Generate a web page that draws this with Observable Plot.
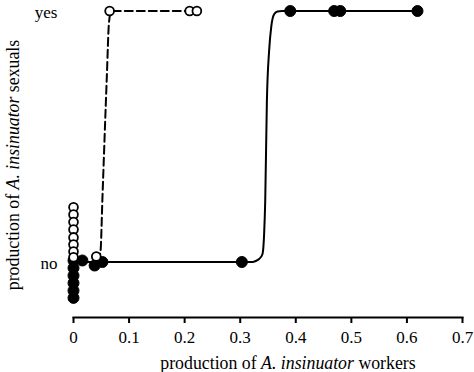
<!DOCTYPE html>
<html>
<head>
<meta charset="utf-8">
<script src="https://cdn.jsdelivr.net/npm/d3@7"></script>
<script src="https://cdn.jsdelivr.net/npm/@observablehq/plot@0.6"></script>
<style>
  html, body { margin: 0; padding: 0; background: #fff; }
  svg { display: block; }
</style>
</head>
<body>
<div id="chart"></div>
<script>
// Observed colonies: x = production of workers, outcome 0 = no, 1 = yes sexuals
// offset = vertical stacking offset of overlapping points (in outcome units)
const openX       = [0, 0, 0, 0, 0, 0, 0, 0, 0.041, 0.065, 0.209, 0.222];
const openOutcome = [0, 0, 0, 0, 0, 0, 0, 0, 0, 1, 1, 1];
const openOffset  = [0.218, 0.189, 0.159, 0.129, 0.098, 0.070, 0.042, 0.019, 0.022, 0, 0, 0];

const filledX       = [0, 0, 0, 0, 0, 0, 0.016, 0.038, 0.052, 0.303, 0.390, 0.469, 0.480, 0.619];
const filledOutcome = [0, 0, 0, 0, 0, 0, 0, 0, 0, 0, 1, 1, 1, 1];
const filledOffset  = [0.006, -0.024, -0.054, -0.084, -0.114, -0.143, 0.006, -0.014, 0, 0, 0, 0, 0, 0];

// fitted curves
const dashedX = [0, 0.040, 0.044, 0.0465, 0.0487, 0.052, 0.056, 0.060, 0.0637, 0.067, 0.072, 0.222];
const dashedP = [0, 0, 0.008, 0.02, 0.044, 0.25, 0.50, 0.74, 0.95, 0.993, 1, 1];

const solidX = [0, 0.322, 0.328, 0.334, 0.340, 0.343, 0.345, 0.348, 0.352, 0.356, 0.361, 0.367, 0.375, 0.619];
const solidP = [0, 0, 0.004, 0.012, 0.031, 0.11, 0.243, 0.641, 0.841, 0.94, 0.987, 0.998, 1, 1];

const xTicks = [0, 0.1, 0.2, 0.3, 0.4, 0.5, 0.6, 0.7];
const yTicks = [0, 1];
const yTickLabels = ["no", "yes"];

const openPts = openX.map((x, i) => ({x, y: openOutcome[i] + openOffset[i]}));
const filledPts = filledX.map((x, i) => ({x, y: filledOutcome[i] + filledOffset[i]}));
const dashed = dashedX.map((x, i) => ({x, y: dashedP[i]}));
const solid = solidX.map((x, i) => ({x, y: solidP[i]}));

const font = "'Liberation Serif', 'Times New Roman', serif";

const chart = Plot.plot({
  width: 474,
  height: 372,
  marginLeft: 73,
  marginRight: 12,
  marginTop: 10,
  marginBottom: 55,
  style: {fontFamily: font, fontSize: "17px", color: "#000", background: "#fff"},
  x: {domain: [0, 0.7], ticks: xTicks},
  y: {domain: [0, 1], range: [261.5, 10.5]},
  marks: [
    Plot.frame({anchor: "bottom", stroke: "#000", strokeWidth: 2}),
    Plot.axisX({ticks: xTicks, tickFormat: d => d === 0 ? "0" : String(d), tickSize: 6, tickPadding: 7, strokeWidth: 2, fontSize: 17, label: null}),
    Plot.axisY({ticks: yTicks, tickFormat: d => yTickLabels[yTicks.indexOf(d)], tickSize: 0, tickPadding: 16, fontSize: 17, dy: 1.5, label: null}),
    Plot.line(dashed, {x: "x", y: "y", curve: "monotone-x", stroke: "#000", strokeWidth: 2, strokeDasharray: "8,4"}),
    Plot.line(solid, {x: "x", y: "y", curve: "monotone-x", stroke: "#000", strokeWidth: 2}),
    Plot.dot(filledPts, {x: "x", y: "y", r: 5.5, fill: "#000", stroke: "#000", strokeWidth: 1}),
    Plot.dot(openPts, {x: "x", y: "y", r: 4.4, fill: "#fff", stroke: "#000", strokeWidth: 1.8})
  ]
});

const svg = d3.select(chart);
function richText(sel, parts) {
  parts.forEach(([t, italic]) => {
    sel.append("tspan").attr("font-style", italic ? "italic" : "normal").text(t);
  });
}
const xt = svg.append("text")
  .attr("x", 288).attr("y", 369)
  .attr("text-anchor", "middle")
  .attr("font-family", font).attr("font-size", 17.8).attr("fill", "#000");
richText(xt, [["production of ", false], ["A. insinuator", true], [" workers", false]]);

const yt = svg.append("text")
  .attr("transform", "translate(19,165) rotate(-90)")
  .attr("text-anchor", "middle")
  .attr("font-family", font).attr("font-size", 17.8).attr("fill", "#000");
richText(yt, [["production of ", false], ["A. insinuator", true], [" sexuals", false]]);

document.getElementById("chart").appendChild(chart);
</script>
</body>
</html>
